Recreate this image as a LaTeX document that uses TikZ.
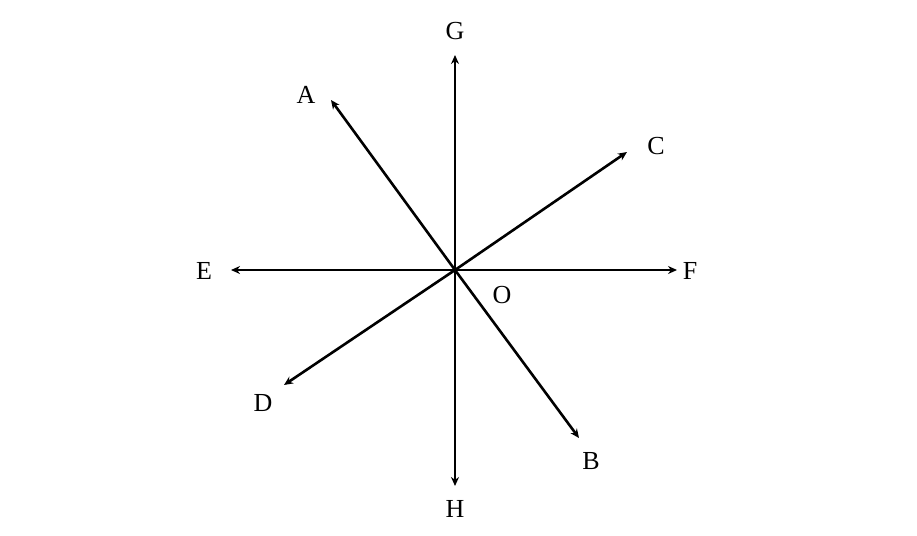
\documentclass[tikz,border=0pt]{standalone}
\usepackage{fontspec}
\setmainfont{Liberation Serif}
\usetikzlibrary{arrows.meta}
\begin{document}
\begin{tikzpicture}[x=1pt,y=-1pt,
  ray/.style={line width=2.6pt,-{Stealth[length=9pt,width=8pt]}},
  lbl/.style={font=\fontsize{26}{30}\selectfont,inner sep=0pt}]
\useasboundingbox (0,0) rectangle (917,535);
\coordinate (O) at (455,270);
\coordinate (g) at (455,55);
\coordinate (h) at (455,486);
\coordinate (e) at (231,270);
\coordinate (f) at (677,270);
\coordinate (a) at (331,100);
\coordinate (b) at (579,438);
\coordinate (c) at (627,152);
\coordinate (d) at (284,385);
\foreach \p in {g,h,e,f,a,b,c,d} \draw[ray] (O) -- (\p);
\node[lbl] (G) at (455,31) {G};
\node[lbl] (H) at (455,509) {H};
\node[lbl] (E) at (204,271) {E};
\node[lbl] (F) at (690,271) {F};
\node[lbl] (A) at (306,95) {A};
\node[lbl] (B) at (591,461) {B};
\node[lbl] (C) at (656,146) {C};
\node[lbl] (D) at (263,403) {D};
\node[lbl] (Ol) at (502,295) {O};
\end{tikzpicture}
\end{document}
